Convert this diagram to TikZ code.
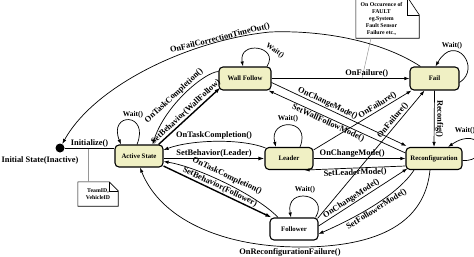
\documentclass[tikz,border=0pt]{standalone}
\usepackage{fontspec}
\setmainfont{Liberation Serif}
\usetikzlibrary{arrows.meta}
\definecolor{stfill}{RGB}{240,240,196}
\definecolor{notegray}{RGB}{150,150,150}
\tikzset{
 st/.style={draw, line width=1.1pt, rounded corners=4pt, fill=stfill, minimum width=48pt, minimum height=22pt, inner sep=0pt, font=\bfseries\fontsize{6.8}{8}\selectfont},
 lbl/.style={font=\bfseries\fontsize{8.4}{9}\selectfont, inner sep=0.8pt},
 waitlbl/.style={font=\bfseries\fontsize{7.4}{9}\selectfont, inner sep=0.8pt},
 tr/.style={line width=0.7pt, -{Latex[length=5pt,width=3.5pt]}},
 trthick/.style={line width=1.4pt, -{Latex[length=6pt,width=4pt]}},
 noteout/.style={draw, line width=0.6pt},
 notetxt/.style={font=\bfseries\fontsize{5.8}{7}\selectfont, align=center, inner sep=0pt},
 noteline/.style={draw=notegray, line width=0.5pt},
}
\begin{document}
\begin{tikzpicture}[x=1pt,y=-1pt]
\useasboundingbox (0,0) rectangle (474,257);
% states
\node[st] (act) at (139,156) {Active State};
\node[st, minimum width=52pt, minimum height=23pt] (wf) at (245,78.5) {Wall Follow};
\node[st, minimum width=49pt, minimum height=23pt] (fail) at (434.5,78.5) {Fail};
\node[st] (lead) at (289,158.5) {Leader};
\node[st, minimum width=56pt] (rec) at (434,158.5) {Reconfiguration};
\node[st, fill=white] (fol) at (294,229) {Follower};
\node[circle, fill=black, minimum size=9pt, inner sep=0pt] (init) at (60,148) {};
\node[lbl] (initlbl) at (40,160) {Initial State(Inactive)};
% notes
\node[notetxt, minimum width=40pt, minimum height=24pt] (tnote) at (98,194) {TeamID,\\VehicleID};
\draw[noteout] (tnote.north west) -- ([xshift=-9pt]tnote.north east) -- ([yshift=-9pt]tnote.north east) -- (tnote.south east) -- (tnote.south west) -- cycle;
\draw[noteout] ([xshift=-9pt]tnote.north east) -- ([xshift=-9pt,yshift=-9pt]tnote.north east) -- ([yshift=-9pt]tnote.north east);
\node[minimum width=63pt, minimum height=41pt, inner sep=0pt] (fnote) at (387.5,17.5) {};
\node[notetxt] (fnotetxt) at ([xshift=-6pt,yshift=-1.5pt]fnote.center) {On Occurence of\\FAULT\\eg.System\\Fault Sensor\\Failure etc.,};
\draw[noteout] (fnote.north west) -- ([xshift=-12pt]fnote.north east) -- ([yshift=-18pt]fnote.north east) -- (fnote.south east) -- (fnote.south west) -- cycle;
\draw[noteout] ([xshift=-12pt]fnote.north east) -- ([xshift=-12pt,yshift=-18pt]fnote.north east) -- ([yshift=-18pt]fnote.north east);
\coordinate (tn) at (88,148);
\coordinate (fn) at (362,78.5);
\draw[noteline] (tn) -- (tn |- tnote.north);
\draw[noteline] (fn) -- ([xshift=-16.5pt]fnote.south);
% initial
\draw[line width=0.7pt] (init) -- node[lbl, above]{Initialize()} ([yshift=8pt]act.west);
\draw[tr] ([xshift=-14pt]fail.north) .. controls (380,40) and (320,30) .. (270,32) .. controls (190,40) and (95,85) .. (init);
\node[lbl, rotate=14] at (220,38.5) {OnFailCorrectionTimeOut()};
% self loops
\draw[tr] ([xshift=-2pt]act.north) .. controls (150,112) and (108,112) .. ([xshift=-18pt]act.north);
\node[waitlbl] at (133,115) {Wait()};
\draw[tr] ([xshift=22pt]wf.north) .. controls (280,46) and (238,40) .. ([xshift=-2pt]wf.north);
\node[waitlbl, rotate=-35] at (275,51) {Wait()};
\draw[tr] ([yshift=-4pt]fail.east) .. controls (482,68) and (455,32) .. ([xshift=1pt]fail.north);
\node[waitlbl] at (452,46) {Wait()};
\draw[tr] ([xshift=11pt]lead.north) .. controls (312,118) and (268,118) .. ([xshift=-13pt]lead.north);
\node[waitlbl] at (288,119) {Wait()};
\draw[tr] ([yshift=-2pt]rec.east) .. controls (492,162) and (482,124) .. ([xshift=14pt]rec.north);
\node[waitlbl] at (465,131) {Wait()};
\draw[tr] ([xshift=-3pt]fol.north east) .. controls (330,194) and (285,186) .. ([xshift=-3pt]fol.north);
\node[waitlbl] at (305,190) {Wait()};
% active <-> wall follow
\draw[trthick] ([xshift=-5pt]act.north east) -- node[lbl, sloped, above]{SetBehavior(WallFollow)} ([shift={(2pt,3pt)}]wf.south west);
\draw[tr] ([yshift=7pt]wf.west) .. controls (205,72) and (165,105) .. ([xshift=-11pt]act.north east);
\node[lbl, rotate=43] at (174,96) {OnTaskCompletion()};
% active <-> leader
\draw[trthick] ([yshift=-2.5pt]act.east) -- node[lbl, above]{SetBehavior(Leader)} (lead.west);
\draw[tr] ([shift={(1pt,-1pt)}]lead.north west) .. controls (240,138) and (190,140) .. ([yshift=6pt]act.east);
\node[lbl] at (214,135) {OnTaskCompletion()};
% active <-> follower
\draw[trthick] ([yshift=1.5pt]act.south east) -- node[lbl, sloped, above]{SetBehavior(Follower)} ([xshift=2pt]fol.north west);
\draw[tr] ([xshift=-16pt]fol.north) .. controls (258,196) and (198,167) .. ([yshift=-5.5pt]act.east);
\node[lbl, rotate=-25.5] at (227,176) {OnTaskCompletion()};
% reconfiguration failure
\draw[tr] ([xshift=-4pt]rec.south) .. controls (425,222) and (380,247) .. (300,247) .. controls (220,247) and (160,218) .. ([xshift=1pt]act.south);
\node[lbl] at (290,252.5) {OnReconfigurationFailure()};
% wall follow -> fail
\draw[tr] (wf.east) -- node[lbl, above, pos=0.69]{OnFailure()} (fail.west);
% wall follow <-> reconfiguration
\draw[tr] ([yshift=-4pt]wf.east) -- node[lbl, sloped, above, pos=0.4]{OnChangeMode()} ([shift={(1pt,1pt)}]rec.north west);
\draw[tr] ([yshift=5.5pt]rec.west) -- node[lbl, sloped, below, pos=0.55]{SetWallFollowMode()} ([xshift=-3pt]wf.south east);
% leader / follower -> fail
\draw[tr] ([yshift=-3pt]lead.north east) -- node[lbl, sloped, above, pos=0.68]{OnFailure()} ([xshift=2pt]fail.south west);
\draw[tr] ([shift={(-1pt,-1pt)}]fol.north east) -- node[lbl, sloped, above, pos=0.74]{OnFailure()} ([xshift=-10pt]fail.south);
% fail -> reconfiguration
\draw[tr] (fail.south) -- node[lbl, rotate=-90, anchor=south]{Reconfig()} (rec.north);
% leader <-> reconfiguration
\draw[tr] (lead.east) -- node[lbl, above, pos=0.42]{OnChangeMode()} (rec.west);
\draw[tr] ([yshift=-7.5pt]rec.west) -- node[lbl, sloped, below]{SetLeaderMode()} ([xshift=-9pt]lead.south east);
% follower <-> reconfiguration
\draw[tr] ([yshift=3pt]fol.east) -- node[lbl, sloped, above, pos=0.4]{OnChangeMode()} ([shift={(2pt,1.5pt)}]rec.south west);
\draw[tr] ([xshift=-20pt]rec.south) .. controls (398,195) and (355,218) .. node[lbl, sloped, below]{SetFollowerMode()} ([yshift=-5pt]fol.east);
\end{tikzpicture}
\end{document}
